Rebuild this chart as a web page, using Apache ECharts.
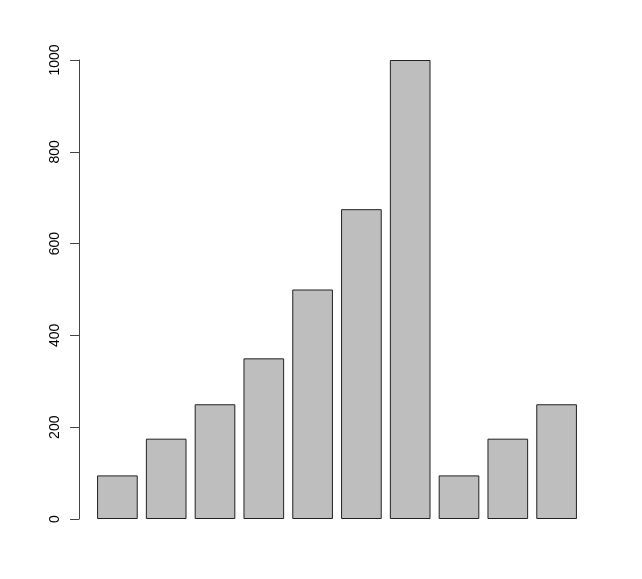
<!DOCTYPE html>
<html>
<head>
<meta charset="utf-8">
<script src="https://cdn.jsdelivr.net/npm/echarts@6/dist/echarts.min.js"></script>
<style>
  html, body { margin: 0; padding: 0; background: #fff; }
  #chart { width: 642px; height: 579px; }
</style>
</head>
<body>
<div id="chart"></div>
<script>
// bar heights
var categories = ['1', '2', '3', '4', '5', '6', '7', '8', '9', '10'];
var values = [95, 175, 250, 350, 500, 675, 1000, 95, 175, 250];
var yTicks = [0, 200, 400, 600, 800, 1000];

var myChart = echarts.init(document.getElementById('chart'));
var option = {
  animation: false,
  grid: {
    left: 93,
    right: 61,
    top: 60,
    bottom: 60
  },
  xAxis: {
    type: 'category',
    data: categories,
    show: false
  },
  yAxis: {
    type: 'value',
    min: yTicks[0],
    max: yTicks[yTicks.length - 1],
    interval: 200,
    offset: 14,
    splitLine: { show: false },
    axisLine: { show: true, lineStyle: { color: '#444', width: 1 } },
    axisTick: { show: true, length: 9, lineStyle: { color: '#444', width: 1 } },
    axisLabel: {
      rotate: 90,
      margin: 17,
      color: '#000',
      fontFamily: 'Liberation Sans',
      fontSize: 14,
      formatter: function (v) { return String(v); }
    }
  },
  series: [{
    type: 'bar',
    data: values,
    barCategoryGap: '16.7%',
    itemStyle: {
      color: '#bebebe',
      borderColor: '#222',
      borderWidth: 1
    }
  }]
};
myChart.setOption(option);
</script>
</body>
</html>
